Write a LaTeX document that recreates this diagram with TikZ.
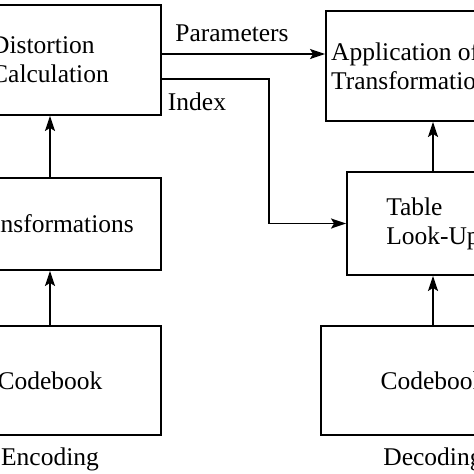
\documentclass[tikz,border=0pt]{standalone}
\usepackage{fontspec}
\setmainfont{Liberation Serif}
\usetikzlibrary{arrows.meta}
\begin{document}
\begin{tikzpicture}[x=1pt,y=-1pt,line width=1.9pt,
    >={Stealth[length=15pt,width=10pt,inset=3pt]},
    font=\fontsize{25.5}{29}\selectfont]
  \tikzset{block/.style={draw,align=left,inner sep=0pt},
           tag/.style={inner sep=0pt}}
  \useasboundingbox (0,0) rectangle (474,474);
  \clip (0,0) rectangle (474,474);
  \node[block,minimum width=222pt,minimum height=110pt] (dist) at (50,60) {Distortion\\Calculation};
  \node[block,minimum width=222pt,minimum height=92pt] (trans) at (50,224) {Transformations};
  \node[block,minimum width=222pt,minimum height=109pt] (cbenc) at (50,380.5) {Codebook};
  \node[tag] (enc) at (50,459) {Encoding};
  \node[block,minimum width=178pt,minimum height=110pt] (appl) at (415,66) {Application of\\Transformations};
  \node[block,minimum width=172pt,minimum height=103pt] (table) at (433,223.5) {Table\\Look-Up};
  \node[block,minimum width=224pt,minimum height=109pt] (cbdec) at (433,380.5) {Codebook};
  \node[tag] (dec) at (433,459) {Decoding};
  \node[tag] (par) at (232,33) {Parameters};
  \node[tag] (idx) at (197,102) {Index};
  \draw[->] (trans) -- (dist);
  \draw[->] (cbenc) -- (trans);
  \draw[->] ([yshift=6pt]dist.east) -- ([yshift=6pt]dist.east -| appl.west);
  \draw[->] ([yshift=-19pt]dist.east) -- ++(107,0) |- (table.west);
  \draw[->] (table.north) -- (table.north |- appl.south);
  \draw[->] (cbdec) -- (table);
\end{tikzpicture}
\end{document}
